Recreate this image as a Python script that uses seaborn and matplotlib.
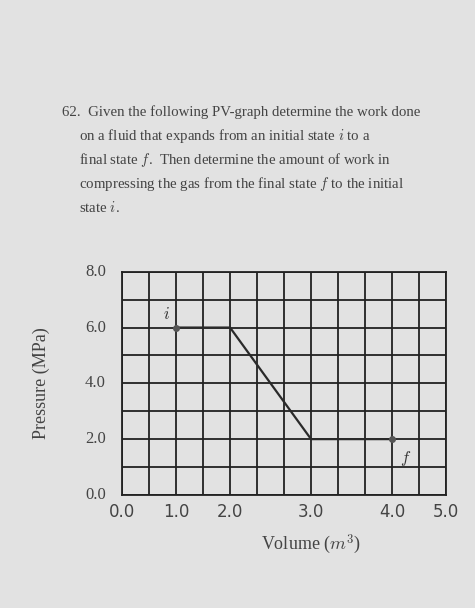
import numpy as np
import matplotlib
matplotlib.use("Agg")
import matplotlib.pyplot as plt
import seaborn as sns

sns.set_style("white")
plt.rcParams['mathtext.fontset'] = 'cm'

volume = [1.0, 2.0, 3.0, 4.0]
pressure = [6.0, 6.0, 2.0, 2.0]
x_tick_labels = ["0.0", "1.0", "2.0", "3.0", "4.0", "5.0"]
x_tick_vals = [0.0, 1.0, 2.0, 3.0, 4.0, 5.0]
x_tick_grid = [0, 2, 4, 7, 10, 12]
y_tick_labels = ["0.0", "2.0", "4.0", "6.0", "8.0"]
y_tick_vals = [0.0, 2.0, 4.0, 6.0, 8.0]

bg = "#e2e2e2"
fig = plt.figure(figsize=(4.75, 6.08), dpi=100, facecolor=bg)
ax = fig.add_axes([0.257, 0.186, 0.682, 0.367], facecolor=bg)

xpos = np.interp(volume, x_tick_vals, x_tick_grid)
sns.lineplot(x=xpos, y=pressure, ax=ax, color="#2a2a2a", lw=1.6, sort=False)
ax.plot([xpos[0], xpos[-1]], [pressure[0], pressure[-1]], "o", ms=4, color="#555555", zorder=5)
ax.text(xpos[0] - 0.5, pressure[0] + 0.3, "$i$", fontsize=12, color="#333")
ax.text(xpos[-1] + 0.3, pressure[-1] - 0.85, "$f$", fontsize=12, color="#333")

ax.set_xlim(0, 12)
ax.set_ylim(0, 8)
ax.set_xticks(range(13))
ax.set_yticks(np.arange(0, 9, 1))
ax.grid(True, color="#222", lw=1.3)
ax.set_xticklabels([])
ax.set_yticklabels([])
ax.tick_params(length=0)
for s in ax.spines.values():
    s.set_color("#222"); s.set_linewidth(1.3)
for g, lab in zip(x_tick_grid, x_tick_labels):
    ax.text(g, -0.3, lab, ha="center", va="top", fontsize=12, color="#444", family="DejaVu Sans")
for v, lab in zip(y_tick_vals, y_tick_labels):
    ax.text(-0.6, v, lab, ha="right", va="center", fontsize=12, color="#444", family="Liberation Serif")
ax.text(7, -1.35, "Volume ($m^3$)", ha="center", va="top", fontsize=13, color="#444", family="Liberation Serif")
ax.text(-3.0, 4, "Pressure (MPa)", ha="center", va="center", rotation=90, fontsize=13, color="#444", family="Liberation Serif")

lines = ["62.  Given the following PV-graph determine the work done",
         "on a fluid that expands from an initial state $i$ to a",
         "final state $f$.  Then determine the amount of work in",
         "compressing the gas from the final state $f$ to the initial",
         "state $i$."]
for k, t in enumerate(lines):
    x0 = 62 if k == 0 else 79
    fig.text(x0 / 475, 1 - (112 + 24 * k) / 608, t, fontsize=10.7, color="#444",
             family="Liberation Serif", va="center")

fig.savefig("out.png", dpi=100, facecolor=bg)
